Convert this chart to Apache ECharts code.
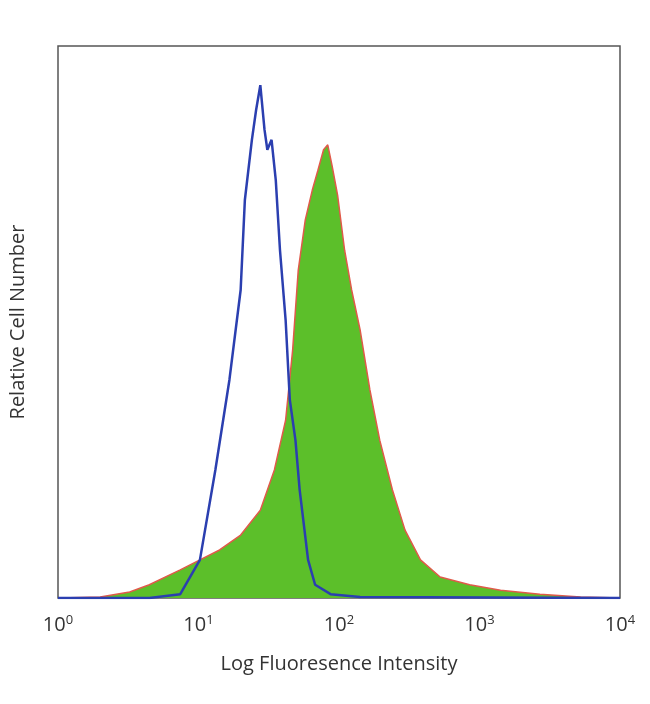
<!DOCTYPE html>
<html>
<head>
<meta charset="utf-8">
<script src="https://cdn.jsdelivr.net/npm/echarts@6/dist/echarts.min.js"></script>
<style>html,body{margin:0;padding:0;background:#fff}#c{width:650px;height:704px}</style>
</head>
<body>
<div id="c"></div>
<script>
// log10 intensity, relative count (0-100)
const blueX = [0, 0.65, 0.87, 1.01, 1.12, 1.22, 1.30, 1.33, 1.38, 1.41, 1.44, 1.47, 1.49, 1.52, 1.55, 1.58, 1.62, 1.65, 1.69, 1.72, 1.78, 1.83, 1.94, 2.15, 4]
const blueY = [0, 0, 0.7, 6.9, 23.2, 39.5, 55.8, 72.1, 83, 88.4, 92.9, 84.8, 81.2, 83, 75.7, 63, 50.4, 35.9, 28.6, 19.6, 6.9, 2.4, 0.7, 0.2, 0]
const greenX = [0.01, 0.30, 0.51, 0.65, 0.87, 1.01, 1.15, 1.30, 1.44, 1.54, 1.62, 1.67, 1.71, 1.76, 1.81, 1.85, 1.89, 1.92, 1.95, 1.99, 2.04, 2.09, 2.15, 2.22, 2.29, 2.38, 2.47, 2.58, 2.72, 2.93, 3.15, 3.43, 3.72, 4]
const greenY = [0, 0.2, 1.1, 2.4, 5.1, 6.9, 8.7, 11.4, 15.9, 23.2, 32.2, 44.9, 59.4, 68.5, 73.9, 77.5, 81.2, 82.1, 78.4, 73, 63, 55.8, 48.6, 37.7, 28.6, 19.6, 12.3, 6.9, 3.8, 2.4, 1.4, 0.7, 0.2, 0]
const decades = ['0', '1', '2', '3', '4']

const chart = echarts.init(document.getElementById('c'))
chart.setOption({
  animation: false,
  grid: { left: 58, right: 30, top: 46, bottom: 106, show: true, borderColor: '#555', borderWidth: 1.5 },
  xAxis: {
    type: 'value', min: 0, max: 4, interval: 1,
    name: 'Log Fluoresence Intensity', nameLocation: 'middle', nameGap: 56,
    nameTextStyle: { fontFamily: 'Open Sans', fontSize: 20, color: '#333' },
    axisLine: { show: false }, axisTick: { show: false }, splitLine: { show: false },
    axisLabel: {
      margin: 16,
      formatter: v => '{b|10}{s|' + decades[v] + '}',
      rich: {
        b: { fontFamily: 'Open Sans', fontSize: 20, color: '#333' },
        s: { fontFamily: 'Open Sans', fontSize: 13, color: '#333', verticalAlign: 'top', padding: [0, 0, 10, 0] }
      }
    }
  },
  yAxis: {
    type: 'value', min: 0, max: 100,
    name: 'Relative Cell Number', nameLocation: 'middle', nameGap: 30, nameRotate: 90,
    nameTextStyle: { fontFamily: 'Open Sans', fontSize: 20, color: '#333' },
    axisLine: { show: false }, axisTick: { show: false }, axisLabel: { show: false }, splitLine: { show: false }
  },
  series: [
    {
      type: 'line', data: greenX.map((x, i) => [x, greenY[i]]), symbol: 'none',
      lineStyle: { color: '#e05a4a', width: 1.5 }, areaStyle: { color: '#5cbf2a', opacity: 1 }
    },
    {
      type: 'line', data: blueX.map((x, i) => [x, blueY[i]]), symbol: 'none',
      lineStyle: { color: '#2b3fb0', width: 2.5 }
    }
  ]
})
</script>
</body>
</html>
